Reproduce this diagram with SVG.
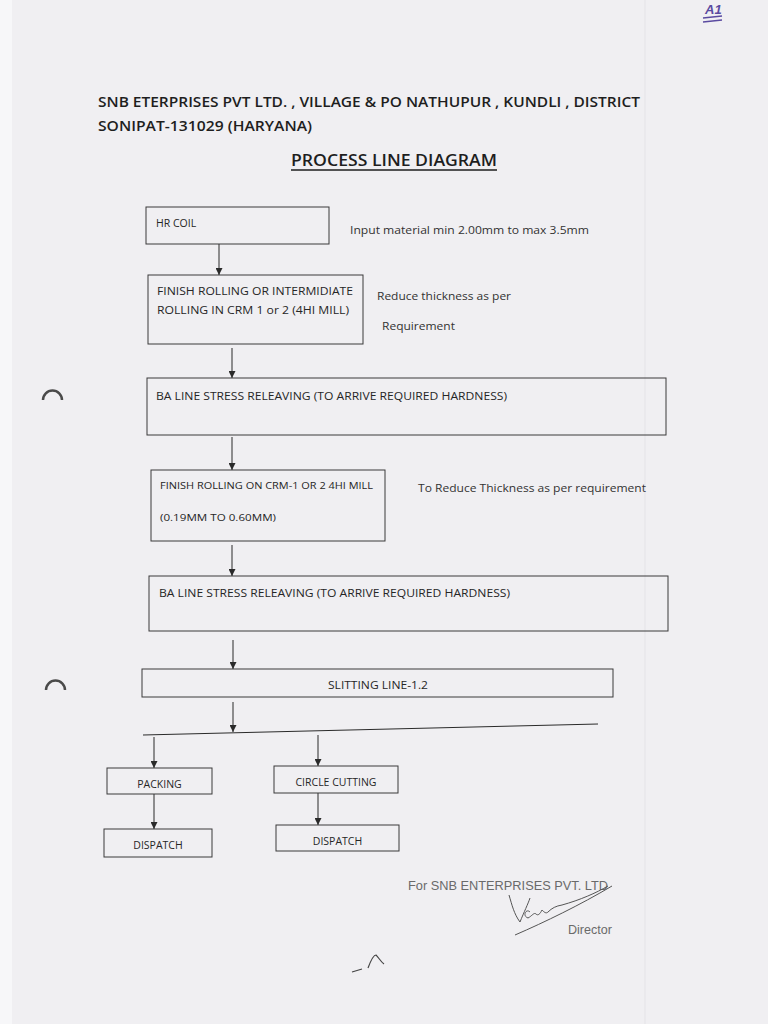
<svg xmlns="http://www.w3.org/2000/svg" width="768" height="1024" viewBox="0 0 768 1024">
<defs>
<marker id="ah" viewBox="0 0 10 10" refX="10" refY="5" markerWidth="7" markerHeight="7" markerUnits="userSpaceOnUse" orient="auto">
<path d="M0,0 L10,5 L0,10 z" fill="#2a2a2a"/>
</marker>
<style>
.bx{fill:none;stroke:#3a3a3a;stroke-width:1}
.t{font-family:"Open Sans","Liberation Sans",Arial,sans-serif;fill:#262626}
.hd{font-size:15px;font-weight:600;fill:#1e1e1e}
.bt{font-size:10.5px}
.an{font-size:11px;fill:#333}
.ln{stroke:#2a2a2a;stroke-width:1;fill:none}
.sig{font-family:"Liberation Sans",Arial,sans-serif;fill:#6a6a6a}
</style>
</defs>
<rect x="0" y="0" width="768" height="1024" fill="#f0eff2"/>
<rect x="0" y="0" width="12" height="1024" fill="#f7f7f9"/>
<line x1="645" y1="0" x2="645" y2="1024" stroke="#e4e3e7" stroke-width="1"/>
<path d="M43,400 A9.5,9.5 0 0 1 62,400" fill="none" stroke="#4a4a4a" stroke-width="2.5"/>
<path d="M46,690 A9.5,9.5 0 0 1 65,690" fill="none" stroke="#4a4a4a" stroke-width="2.5"/>

<g id="header">
<text class="t hd" x="98" y="107" textLength="542" lengthAdjust="spacingAndGlyphs">SNB ETERPRISES PVT LTD. , VILLAGE &amp;  PO NATHUPUR , KUNDLI , DISTRICT</text>
<text class="t hd" x="98" y="131" textLength="214" lengthAdjust="spacingAndGlyphs">SONIPAT-131029 (HARYANA)</text>
<text class="t hd" x="291" y="166" textLength="206" lengthAdjust="spacingAndGlyphs" style="font-size:16px">PROCESS LINE DIAGRAM</text>
<line x1="291" y1="170" x2="497" y2="170" stroke="#1e1e1e" stroke-width="1.3"/>
</g>

<g id="mark-a1">
<text x="705" y="14" style="font-family:'Liberation Sans',sans-serif;font-size:13px;font-style:italic;font-weight:bold;fill:#5a4aa0">A1</text>
<line x1="703" y1="18" x2="722" y2="16" stroke="#5a4aa0" stroke-width="1.3"/>
<line x1="703" y1="22" x2="722" y2="20" stroke="#5a4aa0" stroke-width="1.3"/>
</g>

<g id="connectors">
<line class="ln" x1="219" y1="244" x2="219" y2="275" marker-end="url(#ah)"/>
<line class="ln" x1="232" y1="348" x2="232" y2="378" marker-end="url(#ah)"/>
<line class="ln" x1="232" y1="437" x2="232" y2="470" marker-end="url(#ah)"/>
<line class="ln" x1="232" y1="545" x2="232" y2="576" marker-end="url(#ah)"/>
<line class="ln" x1="233" y1="640" x2="233" y2="669" marker-end="url(#ah)"/>
<line class="ln" x1="233" y1="702" x2="233" y2="732" marker-end="url(#ah)"/>
<line class="ln" x1="143" y1="735" x2="598" y2="724"/>
<line class="ln" x1="154" y1="737" x2="154" y2="768" marker-end="url(#ah)"/>
<line class="ln" x1="318" y1="735" x2="318" y2="766" marker-end="url(#ah)"/>
<line class="ln" x1="154" y1="794" x2="154" y2="829" marker-end="url(#ah)"/>
<line class="ln" x1="318" y1="793" x2="318" y2="825" marker-end="url(#ah)"/>
</g>

<g id="hr-coil">
<rect class="bx" x="146" y="207" width="183" height="37"/>
<text class="t bt" x="156" y="227">HR COIL</text>
</g>
<text id="note-input" class="t an" x="350" y="234" textLength="239" lengthAdjust="spacingAndGlyphs">Input material min 2.00mm to max 3.5mm</text>

<g id="finish-rolling-1">
<rect class="bx" x="148" y="275" width="215" height="69"/>
<text class="t bt" x="157" y="295" textLength="196" lengthAdjust="spacingAndGlyphs">FINISH ROLLING OR INTERMIDIATE</text>
<text class="t bt" x="157" y="314" textLength="192" lengthAdjust="spacingAndGlyphs">ROLLING IN CRM 1 or 2 (4HI MILL)</text>
</g>
<g id="note-reduce">
<text class="t an" x="377" y="300" textLength="134" lengthAdjust="spacingAndGlyphs">Reduce thickness as per</text>
<text class="t an" x="382" y="330" textLength="73" lengthAdjust="spacingAndGlyphs">Requirement</text>
</g>

<g id="ba-line-1">
<rect class="bx" x="147" y="378" width="519" height="57"/>
<text class="t bt" x="156" y="400" textLength="351" lengthAdjust="spacingAndGlyphs">BA LINE STRESS RELEAVING (TO ARRIVE REQUIRED HARDNESS)</text>
</g>

<g id="finish-rolling-2">
<rect class="bx" x="151" y="470" width="234" height="71"/>
<text class="t bt" x="160" y="489" textLength="213" lengthAdjust="spacingAndGlyphs" style="font-size:9.5px">FINISH ROLLING ON CRM-1 OR 2 4HI MILL</text>
<text class="t bt" x="160" y="521" textLength="116" lengthAdjust="spacingAndGlyphs" style="font-size:9.5px">(0.19MM TO 0.60MM)</text>
</g>
<text id="note-reduce-2" class="t an" x="418" y="492" textLength="228" lengthAdjust="spacingAndGlyphs">To Reduce Thickness as per requirement</text>

<g id="ba-line-2">
<rect class="bx" x="149" y="576" width="519" height="55"/>
<text class="t bt" x="159" y="597" textLength="351" lengthAdjust="spacingAndGlyphs">BA LINE STRESS RELEAVING (TO ARRIVE REQUIRED HARDNESS)</text>
</g>

<g id="slitting">
<rect class="bx" x="142" y="669" width="471" height="28"/>
<text class="t bt" x="328" y="689" textLength="100" lengthAdjust="spacingAndGlyphs">SLITTING LINE-1.2</text>
</g>

<g id="packing">
<rect class="bx" x="107" y="768" width="105" height="26"/>
<text class="t bt" x="159.5" y="788" text-anchor="middle">PACKING</text>
</g>
<g id="circle-cutting">
<rect class="bx" x="274" y="766" width="124" height="27"/>
<text class="t bt" x="336" y="786" text-anchor="middle">CIRCLE CUTTING</text>
</g>
<g id="dispatch-1">
<rect class="bx" x="104" y="829" width="108" height="28"/>
<text class="t bt" x="158" y="849" text-anchor="middle">DISPATCH</text>
</g>
<g id="dispatch-2">
<rect class="bx" x="276" y="825" width="123" height="26"/>
<text class="t bt" x="337.5" y="845" text-anchor="middle">DISPATCH</text>
</g>

<g id="signature">
<text class="sig" x="408" y="890" textLength="200" lengthAdjust="spacingAndGlyphs" style="font-size:13px">For SNB ENTERPRISES PVT. LTD</text>
<path d="M509,895 C512,905 514,914 520,922 C524,912 528,904 530,898 M530,912 C526,908 522,916 528,918 C532,916 534,912 536,914 C538,916 540,914 542,910 C544,912 546,914 548,912 C552,908 556,906 562,905 C580,900 596,893 608,886 M515,935 C545,922 580,905 612,886" fill="none" stroke="#555" stroke-width="1"/>
<text class="sig" x="568" y="934" textLength="44" lengthAdjust="spacingAndGlyphs" style="font-size:12px">Director</text>
<path d="M352,972 L362,969 M368,968 C371,960 374,955 376,955 C379,958 381,962 384,964" fill="none" stroke="#444" stroke-width="1.2"/>
</g>
</svg>
